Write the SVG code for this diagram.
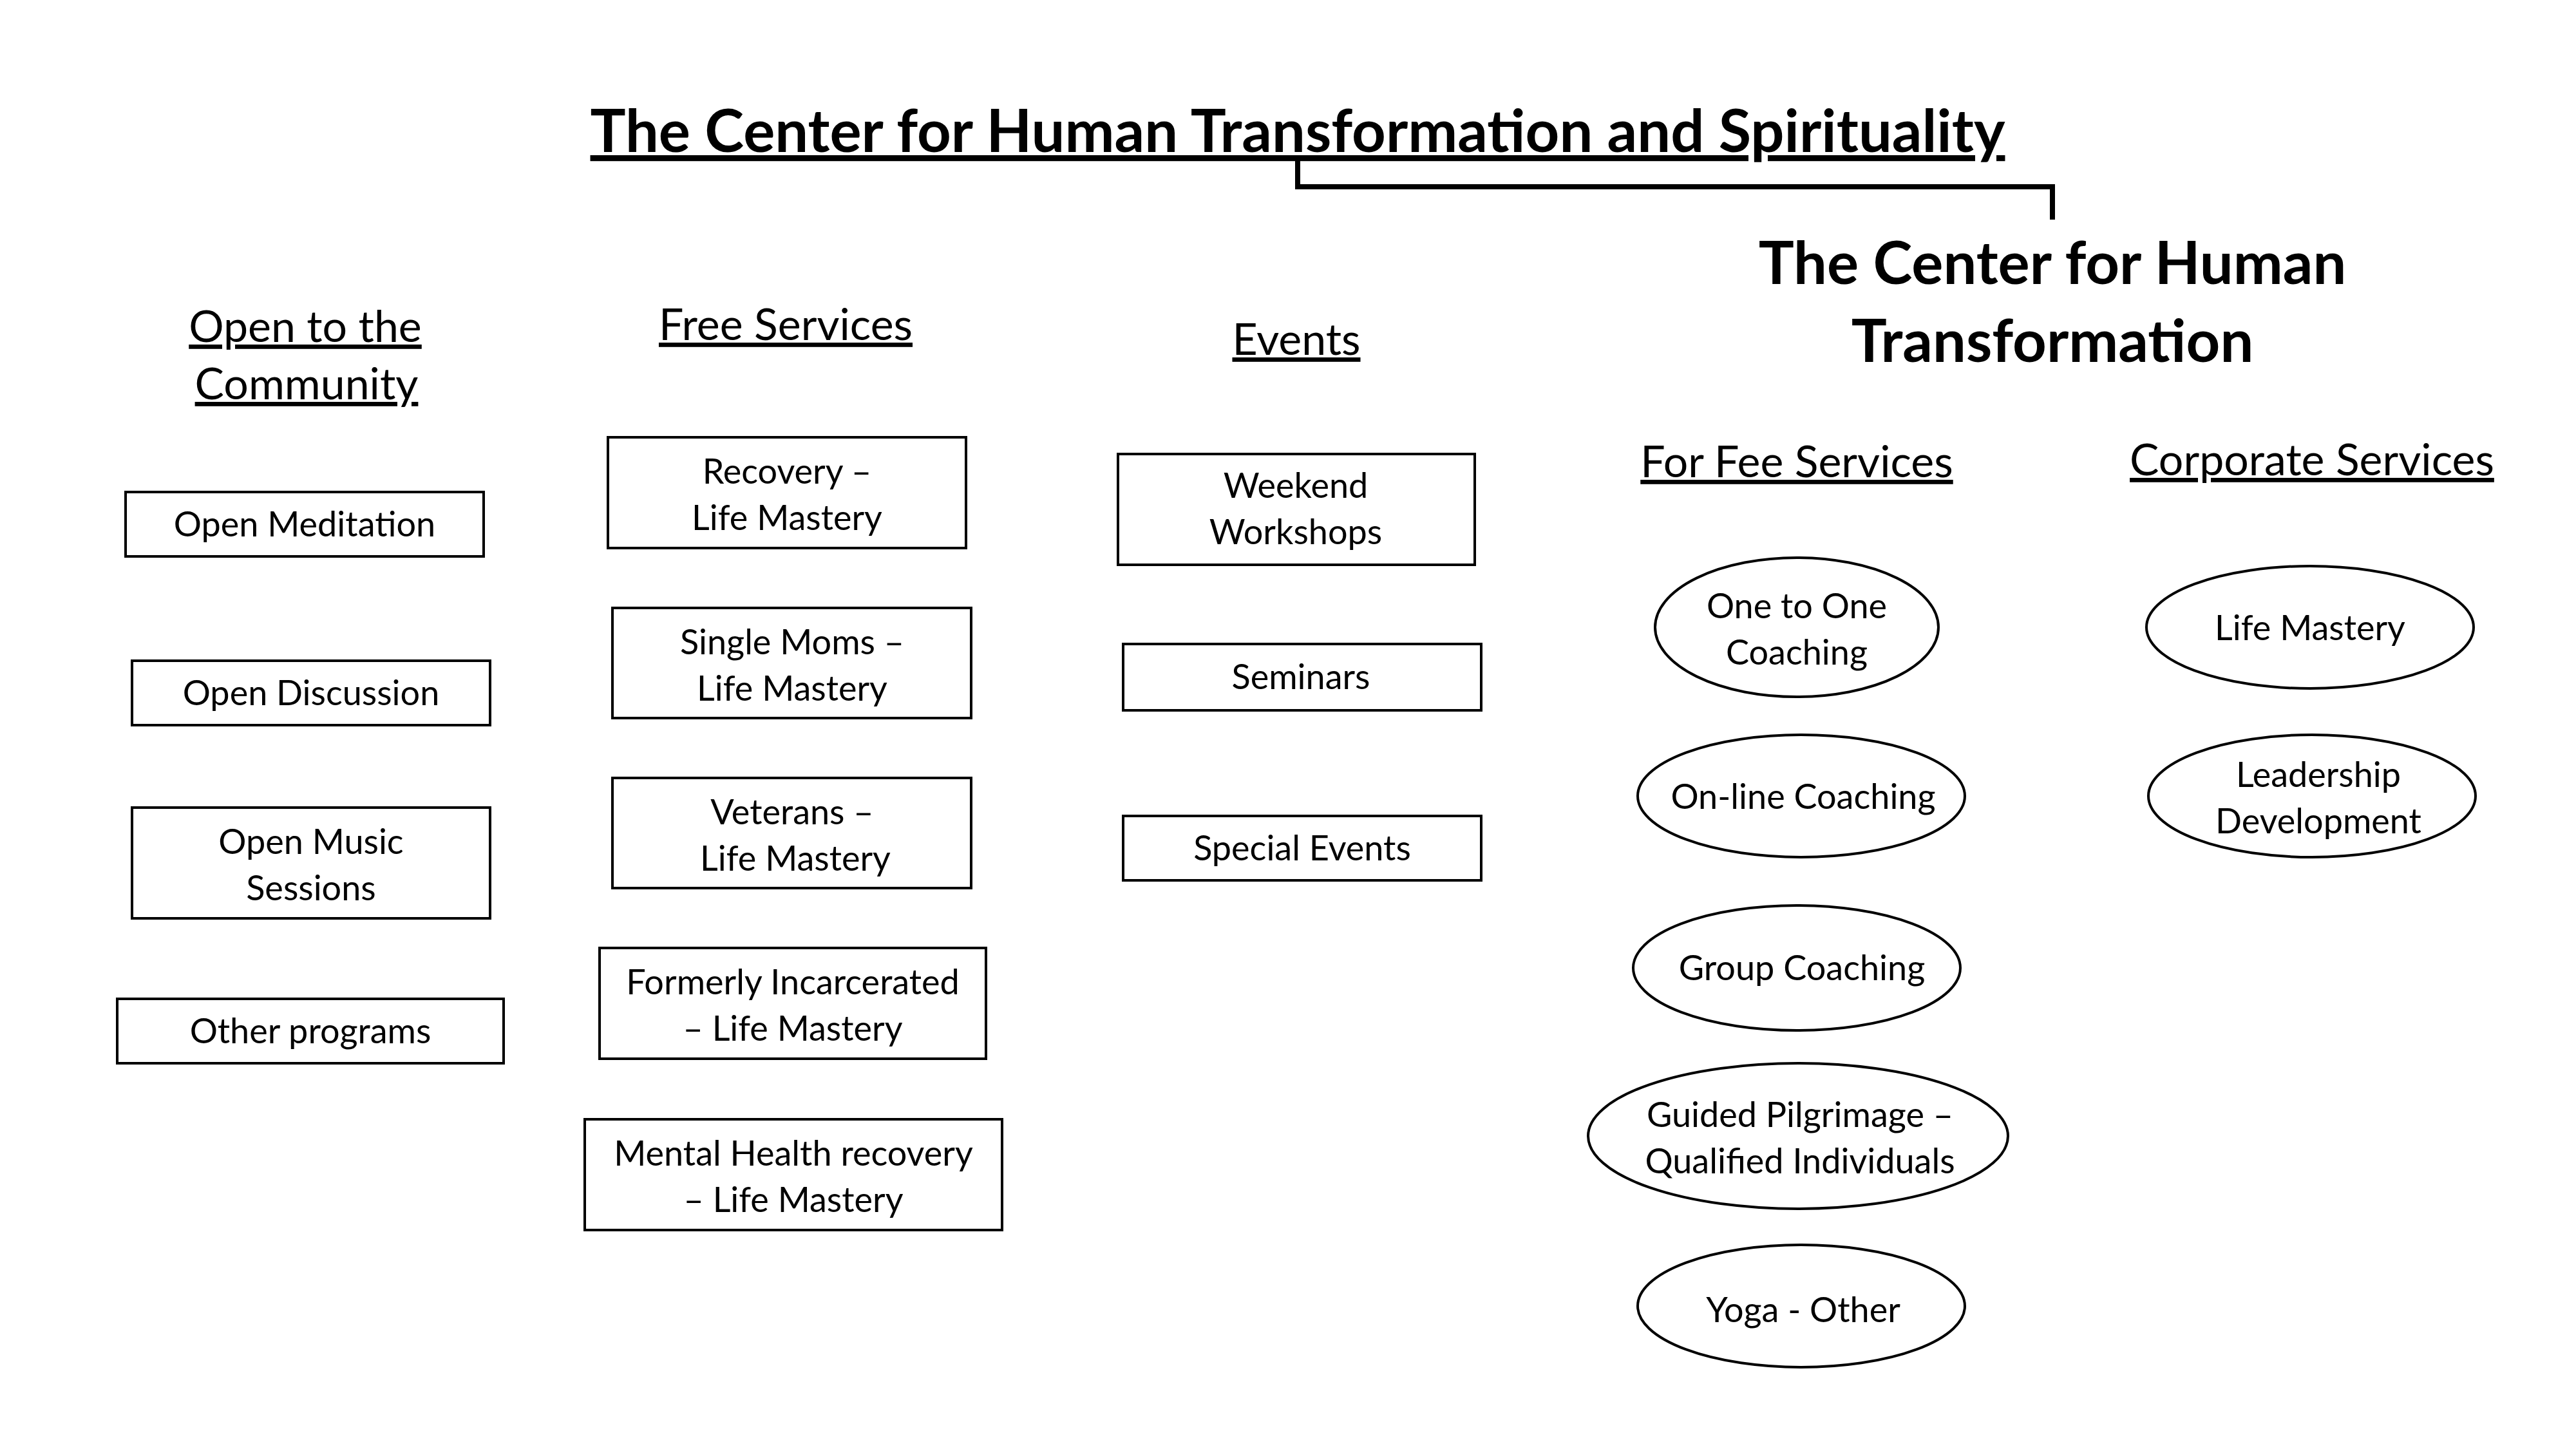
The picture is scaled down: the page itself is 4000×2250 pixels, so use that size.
<svg xmlns="http://www.w3.org/2000/svg" width="4000" height="2250" viewBox="0 0 4000 2250">
<style>
text{font-family:Lato,"Liberation Sans",sans-serif;fill:#000;text-anchor:middle}
.t{font-size:92px;font-weight:bold}
.h{font-size:68px;text-decoration:underline}
.n{font-size:54px}
.s{fill:#fff;stroke:#000;stroke-width:4}
</style>
<rect width="4000" height="2250" fill="#fff"/>
<g id="connectors"><path d="M2015 244V290H3187V341" fill="none" stroke="#000" stroke-width="8"/></g>
<g id="title"><text class="t" x="2015" y="236" text-decoration="underline">The Center for Human Transformation and Spirituality</text></g>
<g id="cht"><text class="t" x="3187" y="441">The Center for Human</text><text class="t" x="3187" y="562">Transformation</text></g>
<g id="h1"><text class="h" x="474" y="531">Open to the</text><text class="h" x="476" y="620">Community</text></g>
<g id="h2"><text class="h" x="1220" y="528">Free Services</text></g>
<g id="h3"><text class="h" x="2013" y="551">Events</text></g>
<g id="h4"><text class="h" x="2790" y="741">For Fee Services</text></g>
<g id="h5"><text class="h" x="3590" y="738">Corporate Services</text></g>
<g id="b1"><rect class="s" x="195" y="764" width="556" height="100"/><text class="n" x="473" y="833">Open Meditation</text></g>
<g id="b2"><rect class="s" x="205" y="1026" width="556" height="100"/><text class="n" x="483" y="1095">Open Discussion</text></g>
<g id="b3"><rect class="s" x="205" y="1254" width="556" height="172"/><text class="n" x="483" y="1326">Open Music</text><text class="n" x="483" y="1398">Sessions</text></g>
<g id="b4"><rect class="s" x="182" y="1551" width="600" height="100"/><text class="n" x="482" y="1620">Other programs</text></g>
<g id="b5"><rect class="s" x="944" y="679" width="556" height="172"/><text class="n" x="1222" y="751">Recovery –</text><text class="n" x="1222" y="823">Life Mastery</text></g>
<g id="b6"><rect class="s" x="951" y="944" width="557" height="171"/><text class="n" x="1230" y="1016">Single Moms –</text><text class="n" x="1230" y="1088">Life Mastery</text></g>
<g id="b7"><rect class="s" x="951" y="1208" width="557" height="171"/><text class="n" x="1230" y="1280">Veterans –</text><text class="n" x="1235" y="1352">Life Mastery</text></g>
<g id="b8"><rect class="s" x="931" y="1472" width="600" height="172"/><text class="n" x="1231" y="1544">Formerly Incarcerated</text><text class="n" x="1231" y="1616">– Life Mastery</text></g>
<g id="b9"><rect class="s" x="908" y="1738" width="648" height="172"/><text class="n" x="1232" y="1810">Mental Health recovery</text><text class="n" x="1232" y="1882">– Life Mastery</text></g>
<g id="b10"><rect class="s" x="1736" y="705" width="554" height="172"/><text class="n" x="2012" y="773">Weekend</text><text class="n" x="2012" y="845">Workshops</text></g>
<g id="b11"><rect class="s" x="1744" y="1000" width="556" height="103"/><text class="n" x="2020" y="1070">Seminars</text></g>
<g id="b12"><rect class="s" x="1744" y="1267" width="556" height="100"/><text class="n" x="2022" y="1336">Special Events</text></g>
<g id="e1"><ellipse class="s" cx="2790" cy="974" rx="220" ry="108"/><text class="n" x="2790" y="960">One to One</text><text class="n" x="2790" y="1032">Coaching</text></g>
<g id="e2"><ellipse class="s" cx="2797" cy="1236" rx="254" ry="95"/><text class="n" x="2800" y="1256">On-line Coaching</text></g>
<g id="e3"><ellipse class="s" cx="2790" cy="1503" rx="254" ry="97"/><text class="n" x="2798" y="1522">Group Coaching</text></g>
<g id="e4"><ellipse class="s" cx="2792" cy="1764" rx="326" ry="113"/><text class="n" x="2795" y="1750">Guided Pilgrimage –</text><text class="n" x="2795" y="1822">Qualified Individuals</text></g>
<g id="e5"><ellipse class="s" cx="2797" cy="2028" rx="254" ry="95"/><text class="n" x="2800" y="2053">Yoga - Other</text></g>
<g id="e6"><ellipse class="s" cx="3587" cy="974" rx="254" ry="95"/><text class="n" x="3587" y="994">Life Mastery</text></g>
<g id="e7"><ellipse class="s" cx="3590" cy="1236" rx="254" ry="95"/><text class="n" x="3600" y="1222">Leadership</text><text class="n" x="3600" y="1294">Development</text></g>
</svg>
